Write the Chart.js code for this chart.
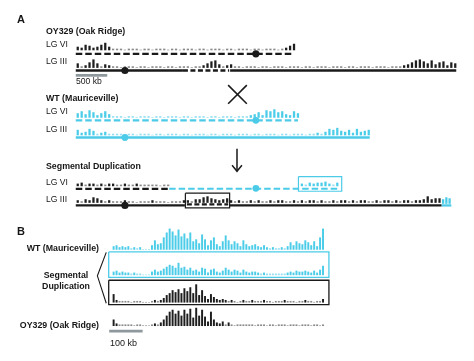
<!DOCTYPE html>
<html><head><meta charset="utf-8">
<script src="https://cdn.jsdelivr.net/npm/chart.js@4"></script>
<style>html,body{margin:0;padding:0;background:#fff}canvas{display:block}</style>
</head><body>
<canvas id="c" width="474" height="361"></canvas>
<script>
// ---------- DATA (relative read coverage per bin) ----------
// Panel A, 62.5 kb bins
const oyA_VI = [3,2,5,4,2,3,5,7,3,1, 1,1,0,1,1,1,0,1,1,0,1,1,1,0,1,1,0,1,1,1,0,1,1,0,1,1,1,0,1,1,0,1,1,1,0,1,1,0,1,1,1,0,1, 2,4,6];
const oyA_III = [4,1,2,5,8,4,1,3,2,1, 1,0,1,1,1,0,1,1,0,1,1,1,0,1,1,0,1,1,1,0,1,1,2, 4,6,7,3,1,2, 3,
  1,1,0,1,1,1,0,1,1,0,1,1,1,0,1,1,1,0,1,1,0,1,1,1,0,1,1,1,0,1,1,0,1,1,1,0,1,1,1,0,1,1,1,2,
  3,5,7,8,6,4,7,3,5,6,2,5,4];
const wtA_VI = [4,6,3,7,5,2,4,6,3,1, 1,1,0,1,1,0,1,1,1,0,1,1,0,1,1,1,0,1,1,0,1,1,1,0,1,1,0,1,1,1,0,1,1,1,
  2,3,5,2,7,6,8,5,6,3,2,6,4];
const wtA_III = [5,2,3,6,4,1,2,3,1,1, 1,1,0,1,1,0,1,1,1,0,1,1,0,1,1,1,0,1,1,0,1,1,1,0,1,1,0,1,1,1,0,1,1,1,0,1,1,0,1,1,1,0,1,1,0,1,1,1,0,1,1,2,1,
  3,6,5,7,4,3,5,2,6,3,4,5];
const sdA_VI_oy = [2,3,1,2,2,1,2,1,2,2,1,1,2,1,1,2,1,1,1,1,1,0,1,1];
const sdA_VI_wt = [2,1,3,2,3,3,4,2,1,3];
const sdA_III_oy = [2,1,3,2,5,4,2,1,2,1, 1,1,2,1,1,0,1,1,1,2,1,1,1,0,1,1,1,2, 2,1,3,3,5,6,4,3,2,3,4, 2,
  1,2,1,1,2,1,2,1,1,2,1,2,2,1,1,2,1,2,1,2,2,1,2,1,1,2,1,2,2,1,2,1,2,2,1,1,2,1,2,2,1,2,1,2,2,1,2,
  2,3,6,3,4,4];
const sdA_III_wt = [4,6,5];
// Panel B, fine bins
const wtB = [3,4,2,3,2,3,1,2,1,2,0,0,0,4,9,5,6,12,17,21,18,14,20,13,16,11,17,8,10,6,15,10,4,9,12,5,3,8,14,9,5,8,6,3,9,5,3,4,5,3,2,4,2,1,2,1,1,2,1,3,7,4,8,6,5,9,7,4,8,3,12,21];
const sdB_wt = [3,4,2,3,2,2,1,2,1,1,0,0,0,3,5,3,4,6,8,10,9,7,12,7,8,5,7,4,5,3,7,6,2,5,6,3,2,4,7,5,3,5,4,2,5,3,2,3,3,2,1,2,1,1,1,1,1,1,1,2,3,2,4,3,3,4,3,2,4,2,5,9];
const sdB_oy = [8,2,1,1,1,1,0,1,1,1,0,0,0,1,2,1,2,4,7,9,12,10,13,9,14,11,15,9,18,7,12,6,3,8,5,3,2,3,2,1,2,1,0,1,2,1,1,2,1,1,1,2,1,1,0,1,1,1,2,1,1,1,0,1,1,2,1,1,0,1,1,3];
const oyB = [6,2,1,1,1,1,1,0,1,1,0,0,0,1,2,1,3,6,10,14,16,12,15,10,16,12,17,8,18,10,16,9,4,14,6,3,2,4,1,3,1,0,1,1,1,1,1,1,0,1,1,1,0,1,1,0,1,1,1,0,1,1,1,0,1,1,1,0,1,1,0,1];
// centromere positions (bin index along panel A tracks)
const cenVI = 45.8, cenIII = 12.5;
const labels = ['OY329 (Oak Ridge)','WT (Mauriceville)','Segmental Duplication'];

// ---------- STYLE / LAYOUT ----------
const BLACK='#1a1a1a', CYAN='#4ccbe8', GREY='#8e999d';
const A0=73, AS=4, B0=110, BS=3;
const ax = i => A0 + AS*i;

function cov(vals, start, step, base, dark, thick){
  const hi = dark ? '#1e1e1e' : 'rgba(55,198,230,0.9)';
  const lo = dark ? '#8a8a8a' : 'rgba(120,215,238,0.8)';
  return {type:'bar', data: vals.map((v,i)=>({x:start+step*i+step/2, y:[base, base-v]})),
    backgroundColor: vals.map(v => v<=1 ? lo : hi), barThickness:thick, grouped:false, order:3};
}
function seg(pts, color, w, dash){
  return {type:'line', data: pts.map(p=>({x:p[0],y:p[1]})), borderColor:color, borderWidth:w,
    borderDash:dash||[], pointRadius:0, fill:false, tension:0, order:1, borderCapStyle:'butt'};
}
function dot(x,y,color,r){
  return {type:'line', showLine:false, data:[{x,y}], pointRadius:r||3.5, pointBackgroundColor:color,
    pointBorderWidth:0, pointBorderColor:color, order:0};
}
const DASH=[6.5,3];
const ds = [];
// ---- Panel A: OY329
ds.push(cov(oyA_VI, A0, AS, 47, true, 1.6));
ds.push(seg([[A0,51],[ax(oyA_VI.length)-2,51]], BLACK, 2.3, DASH));
ds.push(dot(ax(cenVI),51,BLACK,3.6));
ds.push(cov(oyA_III, A0, AS, 65, true, 1.6));
ds.push(seg([[A0,68],[182,68]], BLACK, 2.3));
ds.push(seg([[182,68],[229,68]], BLACK, 2.3, [5,2.5]));
ds.push(seg([[230,68],[ax(oyA_III.length)-1,68]], BLACK, 2.3));
ds.push(dot(ax(cenIII),68,BLACK,3.6));
ds.push(seg([[A0,73],[A0+32,73]], GREY, 2.6));
// cross
ds.push(seg([[228,83],[247,102]], BLACK, 1.6));
ds.push(seg([[247,83],[228,102]], BLACK, 1.6));
// ---- WT
ds.push(cov(wtA_VI, A0, AS, 116, false, 1.6));
ds.push(seg([[A0,119],[ax(wtA_VI.length)-2,119]], CYAN, 2.3, DASH));
ds.push(dot(ax(cenVI),119,CYAN,3.4));
ds.push(cov(wtA_III, A0, AS, 134, false, 1.6));
ds.push(seg([[A0,136.5],[ax(wtA_III.length)-1,136.5]], CYAN, 2.3));
ds.push(dot(ax(cenIII),136.5,CYAN,3.4));
// arrow
ds.push(seg([[237,148],[237,171]], BLACK, 1.5));
ds.push(seg([[232,165],[237,171],[242,165]], BLACK, 1.5));
// ---- Segmental duplication
ds.push(cov(sdA_VI_oy, A0, AS, 186, true, 1.6));
ds.push(seg([[A0,189],[167,189]], BLACK, 2.3, DASH));
ds.push(seg([[168,189],[341,189]], CYAN, 2.1, DASH));
ds.push(dot(ax(cenVI),188.5,CYAN,3.4));
ds.push(cov(sdA_VI_wt, 301, AS, 186, false, 1.6));
ds.push(seg([[299.5,176.5],[343.5,176.5],[343.5,191.5],[299.5,191.5],[299.5,176.5]], CYAN, 1.2));
ds.push(cov(sdA_III_oy, A0, AS, 203, true, 1.6));
ds.push(seg([[A0,206],[184,206]], BLACK, 2.3));
ds.push(seg([[186,205],[228,205]], BLACK, 2.3, [5,2.5]));
ds.push(seg([[229,206],[445,206]], BLACK, 2.3));
ds.push(seg([[445,206],[455,206]], CYAN, 2.3));
ds.push(cov(sdA_III_wt, 445, AS-0.7, 204, false, 1.6));
ds.push(dot(ax(cenIII),206,BLACK,3.6));
ds.push(seg([[184.5,193.5],[229.5,193.5],[229.5,208.5],[184.5,208.5],[184.5,193.5]], BLACK, 1.2));
// ---- Panel B
ds.push(cov(wtB, B0, BS, 251, false, 1.3));
ds.push(seg([[106.5,253.5],[330.5,253.5],[330.5,279.5],[106.5,279.5],[106.5,253.5]], CYAN, 1.3));
ds.push(cov(sdB_wt, B0, BS, 277, false, 1.3));
ds.push(seg([[106.5,282.5],[330.5,282.5],[330.5,307.5],[106.5,307.5],[106.5,282.5]], BLACK, 1.3));
ds.push(cov(sdB_oy, B0, BS, 305, true, 1.3));
ds.push(cov(oyB, B0, BS, 329, true, 1.3));
ds.push(seg([[104,254],[95,278],[104,306]], BLACK, 1.1));
ds.push(seg([[107,334.5],[141,334.5]], GREY, 2.6));

const textPlugin = {
  id:'texts',
  afterDraw(chart){
    const c = chart.ctx;
    c.save();
    c.fillStyle = '#161616';
    c.textBaseline = 'middle';
    const F = 'Liberation Sans, Arial, sans-serif';
    const t = (s,x,y,font,align)=>{ c.font=font; c.textAlign=align||'left'; c.fillText(s,x,y); };
    const B = 'bold 8.8px '+F, R = '8.6px '+F;
    t('A',17,20,'bold 11px '+F);
    t(labels[0],46,32,B); t('LG VI',46,45,R); t('LG III',46,62,R);
    t('500 kb',76,82,'8.6px '+F);
    t(labels[1],46,99,B); t('LG VI',46,112,R); t('LG III',46,130,R);
    t(labels[2],46,167,B); t('LG VI',46,183,R); t('LG III',46,200,R);
    t('B',17,232,'bold 11px '+F);
    t(labels[1],99,249,B,'right');
    t('Segmental',66,276,B,'center');
    t('Duplication',66,287,B,'center');
    t(labels[0],99,326,B,'right');
    t('100 kb',110,344,'9px '+F);
    c.restore();
  }
};

new Chart(document.getElementById('c'), {
  type:'bar',
  data:{datasets:ds},
  options:{
    responsive:false, animation:false, events:[],
    layout:{padding:0},
    plugins:{legend:{display:false}, tooltip:{enabled:false}},
    scales:{
      x:{type:'linear', min:0, max:474, display:false, offset:false},
      y:{type:'linear', min:0, max:361, reverse:true, display:false}
    }
  },
  plugins:[textPlugin]
});
</script>
</body></html>
